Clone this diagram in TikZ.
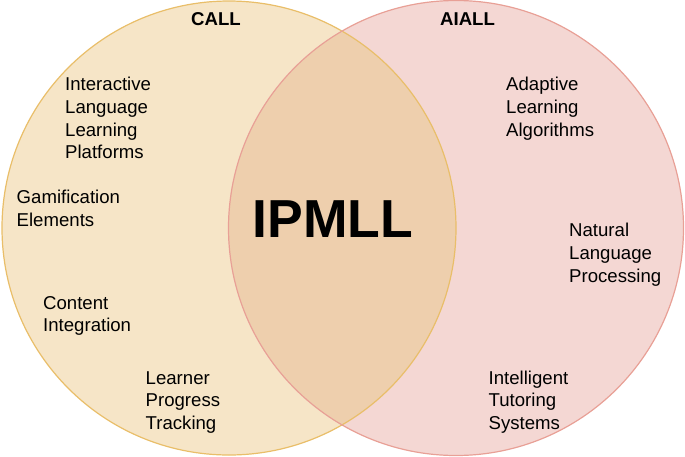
\documentclass[tikz,border=0pt]{standalone}
\usepackage{fontspec}
\setmainfont{Liberation Sans}
\definecolor{callfill}{RGB}{246,229,199}
\definecolor{callline}{RGB}{233,190,105}
\definecolor{aiallfill}{RGB}{244,215,211}
\definecolor{aiallline}{RGB}{232,160,150}
\definecolor{overlapfill}{RGB}{238,207,173}
\tikzset{
    item/.style={anchor=base west, align=left, inner sep=0pt,
        font=\fontsize{18.6pt}{22.7pt}\selectfont},
    title/.style={item, font=\fontsize{18.6pt}{22.7pt}\selectfont\bfseries}
}
\begin{document}
\begin{tikzpicture}[x=1pt, y=-1pt]

    \useasboundingbox (0,0) rectangle (685,456);

    % Conjuntos
    \fill[callfill] (229,228) circle (227);
    \fill[aiallfill] (456,228) circle (227.5);
    \begin{scope}
        \clip (229,228) circle (227);
        \fill[overlapfill] (456,228) circle (227.5);
    \end{scope}
    \node[circle, draw=callline, line width=1.2pt, minimum size=454pt, inner sep=0pt] (callset) at (229,228) {};
    \node[circle, draw=aiallline, line width=1.2pt, minimum size=455pt, inner sep=0pt] (aiallset) at (456,228) {};

    % Titulos
    \node[title] (call) at (191,25.7) {CALL};
    \node[title] (aiall) at (440,25.7) {AIALL};
    \node[anchor=base west, inner sep=0pt, font=\fontsize{53.5pt}{60pt}\selectfont\bfseries] (ipmll) at (252.5,237) {IPMLL};

    % CALL (ancla en la ultima linea)
    \node[item] (platforms) at (65,158.8) {Interactive\\Language\\Learning\\Platforms};
    \node[item] (gamification) at (16.5,226) {Gamification\\Elements};
    \node[item] (content) at (43,331.7) {Content\\Integration};
    \node[item] (tracking) at (145.5,429.4) {Learner\\Progress\\Tracking};

    % AIALL
    \node[item] (adaptive) at (506,136.1) {Adaptive\\Learning\\Algorithms};
    \node[item] (nlp) at (569,282.1) {Natural\\Language\\Processing};
    \node[item] (tutoring) at (488.5,429.4) {Intelligent\\Tutoring\\Systems};

\end{tikzpicture}
\end{document}
